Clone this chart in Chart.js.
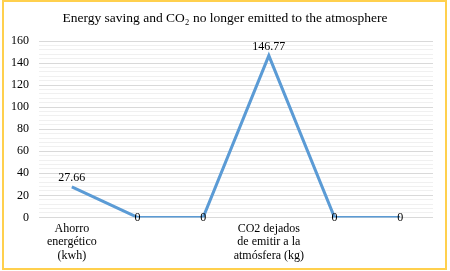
<!DOCTYPE html>
<html>
<head>
<meta charset="utf-8">
<script src="https://cdn.jsdelivr.net/npm/chart.js@4/dist/chart.umd.min.js"></script>
<style>
  html, body { margin: 0; padding: 0; background: #fff; }
  #wrap { position: relative; width: 450px; height: 271px; }
  #frame { position: absolute; left: 2px; top: 0px; width: 441px; height: 266px; border: 2px solid #FFD04D; pointer-events: none; }
  canvas { display: block; }
</style>
</head>
<body>
<div id="wrap">
  <canvas id="chart" width="450" height="271"></canvas>
  <div id="frame"></div>
</div>
<script>
// data
const chartTitle = 'Energy saving and CO₂ no longer emitted to the atmosphere';
const categories = [
  ['Ahorro', 'energético', '(kwh)'], '', '',
  ['CO2 dejados', 'de emitir a la', 'atmósfera (kg)'], '', ''
];
const values = [27.66, 0, 0, 146.77, 0, 0];
const valueLabels = ['27.66', '0', '0', '146.77', '0', '0'];
const yMax = 160;
const yMajorStep = 20;
const yMinorStep = 4;

const serif = '"Liberation Serif", "DejaVu Serif", serif';

// title centred on the whole frame, not the padded box
const frameTitle = {
  id: 'frameTitle',
  afterDraw(chart) {
    const ctx = chart.ctx;
    ctx.save();
    ctx.font = '13.5px ' + serif;
    ctx.fillStyle = '#000';
    ctx.textAlign = 'center';
    ctx.textBaseline = 'middle';
    ctx.fillText(chartTitle, chart.width / 2, 18);
    ctx.restore();
  }
};

// value labels above the points (zeros sit on the line)
const pointLabels = {
  id: 'pointLabels',
  afterDatasetsDraw(chart) {
    const ctx = chart.ctx;
    const meta = chart.getDatasetMeta(0);
    ctx.save();
    ctx.font = '12px ' + serif;
    ctx.fillStyle = '#000';
    ctx.textAlign = 'center';
    ctx.textBaseline = 'middle';
    meta.data.forEach((pt, i) => {
      const dy = values[i] === 0 ? 0 : -9;
      ctx.fillText(valueLabels[i], pt.x, pt.y + dy);
    });
    ctx.restore();
  }
};

new Chart(document.getElementById('chart'), {
  type: 'line',
  data: {
    labels: categories,
    datasets: [{
      data: values,
      borderColor: '#5B9BD5',
      borderWidth: 3,
      pointRadius: 0,
      tension: 0,
      fill: false
    }]
  },
  options: {
    responsive: false,
    animation: false,
    layout: { padding: { left: 1, right: 17, top: 41, bottom: 4 } },
    plugins: {
      legend: { display: false },
      tooltip: { enabled: false },
      title: { display: false }
    },
    scales: {
      x: {
        offset: true,
        grid: { display: false, drawTicks: false },
        border: { display: false },
        ticks: {
          color: '#000',
          font: { family: serif, size: 12, lineHeight: 1.1 },
          maxRotation: 0,
          autoSkip: false,
          padding: 5
        }
      },
      y: {
        min: 0,
        max: yMax,
        border: { display: false },
        grid: {
          drawTicks: false,
          color: ctx => (ctx.tick && ctx.tick.value % yMajorStep === 0) ? '#d9d9d9' : '#f0f0f0',
          lineWidth: 1
        },
        ticks: {
          stepSize: yMinorStep,
          autoSkip: false,
          color: '#000',
          font: { family: serif, size: 12 },
          padding: 10,
          callback: v => (v % yMajorStep === 0 ? v : '')
        }
      }
    }
  },
  plugins: [pointLabels, frameTitle]
});
</script>
</body>
</html>
